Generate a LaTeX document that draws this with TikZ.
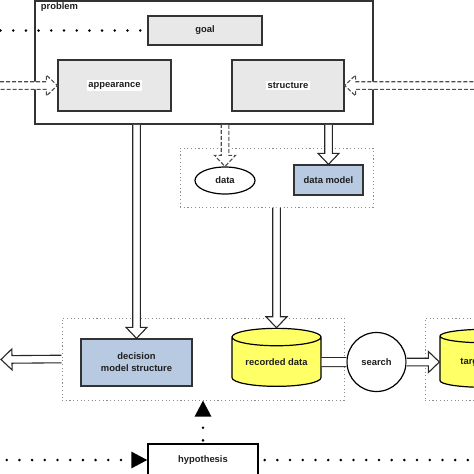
\documentclass[tikz,border=0pt]{standalone}
\usepackage{fontspec}
\setmainfont{Liberation Sans}
\usetikzlibrary{arrows.meta,positioning,calc,shapes.geometric}
\definecolor{boxline}{HTML}{333333}
\definecolor{boxgray}{HTML}{E8E8E8}
\definecolor{boxblue}{HTML}{B8C9E2}
\definecolor{storeyellow}{HTML}{FFFF66}
\definecolor{txtdark}{HTML}{1E1E1E}
\tikzset{
  basebox/.style={draw=boxline, line width=1.3pt, inner sep=0pt, align=center},
  graybox/.style={basebox, fill=boxgray},
  bluebox/.style={basebox, fill=boxblue},
  plainbox/.style={basebox, draw=black, fill=white},
  store/.style={cylinder, shape border rotate=90, aspect=0.28, draw=black,
    line width=1.2pt, fill=storeyellow, minimum width=89pt, minimum height=58pt,
    inner sep=0pt},
  groupbox/.style={draw=gray!90, line width=1pt, dash pattern=on 1.1pt off 2.6pt},
  labelbox/.style={fill=white, inner sep=1.5pt},
  hollow/.style={draw=black!85, line width=1.1pt, fill=white, line join=miter},
  hollowdash/.style={hollow, draw=black!70, dash pattern=on 4pt off 2pt},
  dotline/.style={line width=2.8pt, line cap=round, dash pattern=on 0pt off 12.7pt},
  dottip/.style={dotline, -{Triangle[length=16pt, width=16pt]}},
}
% hollow (outlined) arrow from #2 to #3
\newcommand{\hollowarrow}[3][]{%
  \coordinate (neck) at ($(#3)!11pt!(#2)$);
  \filldraw[hollow,#1] ($(#2)!3.8pt!90:(#3)$) -- ($(neck)!3.8pt!90:(#3)$)
    -- ($(neck)!10.5pt!90:(#3)$) -- (#3) -- ($(neck)!10.5pt!-90:(#3)$)
    -- ($(neck)!3.8pt!-90:(#3)$) -- ($(#2)!3.8pt!-90:(#3)$);
}
\newcommand{\storelabel}[1]{\raisebox{-4pt}{#1}}

\begin{document}
\begin{tikzpicture}[x=1pt, y=-1pt, font=\fontsize{9.4}{12}\selectfont\bfseries,
  text=txtdark]
  \clip (0,0) rectangle (474,474);

  %% ---- problem ----
  \node[basebox, line width=1.5pt, fill=white, minimum width=338pt,
    minimum height=123pt] (problem) at (204,62.5) {};
  \node[anchor=north west, inner sep=0pt] (problabel)
    at ([shift={(6.5pt,-2.5pt)}]problem.north west) {problem};

  \node[graybox, minimum width=114pt, minimum height=29pt] (goal) at (205,30.5) {goal};
  \node[graybox, minimum width=113pt, minimum height=51pt,
    label={[labelbox]center:appearance}] (appear) at (114.5,85.5) {};
  \node[graybox, minimum width=112pt, minimum height=51pt,
    label={[labelbox]center:structure}] (struct) at (288,85.5) {};

  %% ---- data ----
  \node[groupbox, minimum width=193pt, minimum height=59pt] (datagroup) at (276.5,177.5) {};
  \node[ellipse, draw=black, line width=1.2pt, fill=white, minimum width=60pt,
    minimum height=27pt, inner sep=0pt] (data) at (225,180.5) {data};
  \node[bluebox, minimum width=69pt, minimum height=30pt] (dmodel) at (328.5,180) {data model};

  %% ---- model, records, search, target ----
  \node[groupbox, minimum width=282pt, minimum height=82pt] (modelgroup) at (203,359) {};
  \node[groupbox, minimum width=95pt, minimum height=82pt] (targetgroup) at (472.5,359) {};
  \node[bluebox, minimum width=111pt, minimum height=47pt] (decision) at (136.5,362.5)
    {decision\\model structure};
  \node[store] (rec) at (276.5,362) {\storelabel{recorded data}};
  \node[circle, draw=black, line width=1.2pt, fill=white, minimum size=59pt,
    inner sep=0pt] (search) at (376.5,362) {search};
  \node[store] (target) at (484.5,362) {\storelabel{target data}};

  %% ---- hypothesis ----
  \node[plainbox, minimum width=110pt, minimum height=32pt] (hyp) at (203,460) {hypothesis};

  %% ---- free ends ----
  \coordinate (inL) at (0,85.5);
  \coordinate (inR) at (474,85.5);
  \coordinate (outL) at (1,359.5);
  \coordinate (goalIn) at (0.5,30.5);
  \coordinate (hypInL) at (-6,460);
  \coordinate (hypOutR) at (480,460);

  %% ---- connectors ----
  \hollowarrow[hollowdash]{inL}{appear.west}
  \hollowarrow[hollowdash]{inR}{struct.east}
  \hollowarrow[hollowdash]{data.north |- problem.south}{data.north}
  \hollowarrow{dmodel.north |- problem.south}{dmodel.north}
  \hollowarrow{decision.north |- problem.south}{decision.north}
  \hollowarrow{rec.north |- datagroup.south}{rec.north}
  \hollowarrow{modelgroup.west}{outL}
  \hollowarrow{search.east}{target.west}
  \draw[draw=black!85, line width=1pt, double=white, double distance=8pt]
    (rec.east) -- (search.west);

  \draw[dotline, shorten >=7pt] (goalIn) -- (goal.west);
  \draw[dottip] (hypInL) -- (hyp.west);
  \draw[dotline, shorten <=6pt] (hyp.east) -- (hypOutR);
  \draw[dottip, shorten <=3pt] (hyp.north) -- (hyp.north |- modelgroup.south);

\end{tikzpicture}
\end{document}
